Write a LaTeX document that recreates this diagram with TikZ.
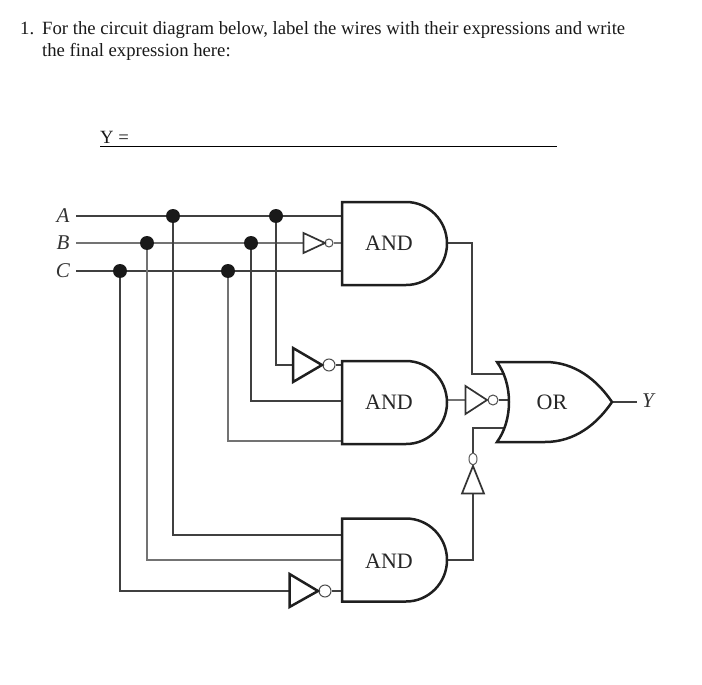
\documentclass[tikz,border=0pt]{standalone}
\usepackage{fontspec}
\usetikzlibrary{shapes.geometric}
\setmainfont{Liberation Serif}
\tikzset{
  wire/.style={line width=1.2pt,draw=black!75},
  lightwire/.style={line width=1.2pt,draw=black!55},
  gate/.style={line width=2.5pt,draw=black!88,line join=miter},
  thininv/.style={line width=1.7pt,draw=black!80,line join=miter},
  bubble/.style={circle,draw=black!70,line width=1pt,fill=white,inner sep=0pt,minimum size=#1},
  dot/.style={circle,fill=black!90,inner sep=0pt,minimum size=14pt},
  body/.style={font=\fontsize{18.7}{22}\selectfont,anchor=base west,inner sep=0pt,text=black!90},
  gatetext/.style={font=\fontsize{22}{24}\selectfont,inner sep=0pt,text=black!85},
  siglabel/.style={font=\fontsize{21}{24}\selectfont\itshape,inner sep=0pt,text=black!80},
}
\begin{document}
\begin{tikzpicture}[x=1pt,y=-1pt]
\useasboundingbox (0,0) rectangle (702,685);
% text
\node[body] (num) at (20,35) {1.};
\node[body] (l1) at (42,35) {For the circuit diagram below, label the wires with their expressions and write};
\node[body] (l2) at (42,57) {the final expression here:};
\node[body] (yeq) at (100,143) {Y =};
\coordinate (ua) at (100,146.5); \coordinate (ub) at (557,146.5);
\draw[line width=1pt,black] (ua) -- (ub);
% input labels
\node[siglabel] (A) at (63,216) {A};
\node[siglabel] (B) at (63,243) {B};
\node[siglabel] (C) at (63,271) {C};
\coordinate (As) at (76,216); \coordinate (Bs) at (76,243); \coordinate (Cs) at (76,271);
% junctions
\node[dot] (a1) at (173,216) {};
\node[dot] (a2) at (276,216) {};
\node[dot] (b1) at (147,243) {};
\node[dot] (b2) at (251,243) {};
\node[dot] (c1) at (120,271) {};
\node[dot] (c2) at (228,271) {};
% gate input ports
\coordinate (g1a) at (342,216); \coordinate (g1b) at (342,243); \coordinate (g1c) at (342,271);
\coordinate (g2a) at (342,365); \coordinate (g2b) at (342,401); \coordinate (g2c) at (342,441);
\coordinate (g3a) at (342,535); \coordinate (g3b) at (342,560); \coordinate (g3c) at (342,591);
% inverters' ports
\coordinate (i1in) at (303,243); \node[bubble=8pt] (i1b) at (329,243) {};
\coordinate (i2in) at (292,365); \node[bubble=12pt] (i2b) at (329,365) {};
\coordinate (i3in) at (289,591); \node[bubble=12pt] (i3b) at (325,591) {};
\coordinate (i4in) at (465,400); \node[bubble=10pt] (i4b) at (493,400) {};
\coordinate (i5in) at (473,494); \node[draw=black!65,line width=1pt,fill=white,ellipse,inner sep=0pt,minimum width=8pt,minimum height=12pt] (i5b) at (473,459) {};
% wires
\draw[wire] (As) -- (a1) -- (a2) -- (g1a);
\draw[lightwire] (Bs) -- (b1) -- (b2) -- (i1in);
\draw[lightwire] (i1b) -- (g1b);
\draw[wire] (Cs) -- (c1) -- (c2) -- (g1c);
\draw[wire] (a2) |- (i2in);
\draw[wire] (i2b) -- (g2a);
\draw[wire] (b2) |- (g2b);
\draw[lightwire] (c2) |- (g2c);
\draw[wire] (a1) |- (g3a);
\draw[lightwire] (b1) |- (g3b);
\draw[wire] (c1) |- (i3in);
\draw[wire] (i3b) -- (g3c);
% outputs
\coordinate (o1) at (447,243); \coordinate (o2) at (447,400); \coordinate (o3) at (447,560);
\coordinate (ora) at (505,374); \coordinate (orb) at (510,400); \coordinate (orc) at (505,428);
\coordinate (ortip) at (612,402); \coordinate (Yend) at (637,402);
\draw[wire] (o1) -- (472,243) |- (ora);
\draw[lightwire] (o2) -- (i4in);
\draw[wire] (i4b) -- (orb);
\draw[wire] (o3) -- (473,560) -- (i5in);
\draw[wire] (i5b) -- (473,428) -- (orc);
\draw[wire] (ortip) -- (Yend);
\node[siglabel] (Y) at (648,401) {Y};
% AND gates
\foreach \c in {243.5,402.5,560}{
  \draw[gate] (342,\c-41.5) -- (406,\c-41.5) arc[start angle=-90,end angle=90,x radius=41,y radius=41.5] -- (342,\c+41.5) -- cycle;
}
\node[gatetext] (and1) at (389,243) {AND};
\node[gatetext] (and2) at (389,402) {AND};
\node[gatetext] (and3) at (389,561) {AND};
% OR gate
\draw[gate] (497,362) -- (545,362) .. controls (575,362) and (597,380) .. (612,402)
  .. controls (597,424) and (575,442) .. (545,442) -- (497,442)
  .. controls (513,420) and (513,384) .. (497,362) -- cycle;
\node[gatetext] (or) at (552,402) {OR};
% inverters
\draw[thininv] (303.5,233) -- (325,243) -- (303.5,253) -- cycle;
\draw[gate] (293,348) -- (322,365) -- (293,382) -- cycle;
\draw[gate] (289.5,574) -- (318,591) -- (289.5,607) -- cycle;
\draw[thininv] (465.5,386) -- (487,400) -- (465.5,414) -- cycle;
\draw[thininv] (473,466) -- (484,493.5) -- (462,493.5) -- cycle;
\end{tikzpicture}
\end{document}
